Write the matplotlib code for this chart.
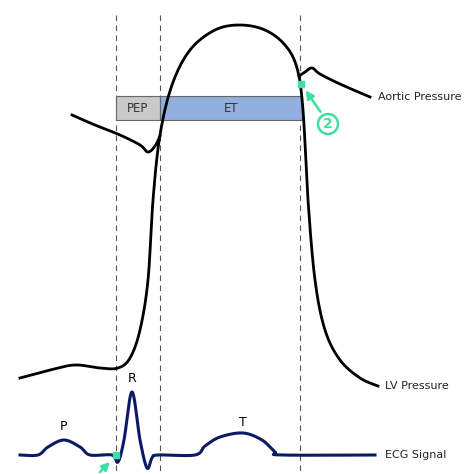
import matplotlib
matplotlib.use("Agg")
import matplotlib.pyplot as plt
import numpy as np

# pixel-space control points (y grows downward)
lv_x = [20, 50, 75, 100, 118, 130, 140, 148, 153, 160, 172, 190, 215, 240, 265, 285, 297, 303, 308, 315, 325, 340, 360, 378]
lv_y = [378, 370, 365, 368, 368, 358, 330, 280, 200, 135, 85, 50, 30, 25, 30, 45, 68, 110, 200, 280, 330, 360, 378, 386]
ao1_x = [72, 95, 120, 140, 148, 155, 160]
ao1_y = [115, 125, 135, 145, 152, 146, 136]
ao2_x = [299, 305, 312, 320, 340, 370]
ao2_y = [76, 72, 68, 74, 84, 97]
ecg_x = [20, 38, 48, 64, 80, 90, 112, 118, 124, 132, 140, 147, 152, 158, 195, 205, 220, 243, 262, 275, 282, 375]
ecg_y = [455, 455, 447, 440, 447, 455, 455, 462, 440, 392, 440, 468, 458, 455, 455, 446, 437, 433, 440, 452, 455, 455]
dash_x = [116, 160, 300]
labels = ["Aortic Pressure", "LV Pressure", "ECG Signal"]

def smooth(x, y, n=20):
    x = np.array(x, float); y = np.array(y, float)
    P = np.vstack([x, y]).T
    P = np.vstack([P[0], P, P[-1]])
    out = []
    for i in range(1, len(P) - 2):
        p0, p1, p2, p3 = P[i-1], P[i], P[i+1], P[i+2]
        for t in np.linspace(0, 1, n, endpoint=False):
            out.append(0.5 * ((2*p1) + (-p0+p2)*t + (2*p0-5*p1+4*p2-p3)*t**2 + (-p0+3*p1-3*p2+p3)*t**3))
    out.append(P[-2])
    out = np.array(out)
    return out[:, 0], out[:, 1]

fig = plt.figure(figsize=(4.74, 4.74), dpi=100)
ax = fig.add_axes([0, 0, 1, 1])
ax.set_xlim(0, 474); ax.set_ylim(474, 0); ax.axis("off")

for x in dash_x:
    ax.plot([x, x], [15, 474], ls=(0, (5, 4)), color="#555555", lw=0.8)

ax.add_patch(plt.Rectangle((116, 96), 44, 24, fc="#c9c9c9", ec="#666666", lw=0.8, zorder=2))
ax.add_patch(plt.Rectangle((160, 96), 142, 24, fc="#92b0de", ec="#666666", lw=0.8, zorder=2))
ax.text(138, 108, "PEP", ha="center", va="center", fontsize=8.5, color="#333333", zorder=3)
ax.text(231, 108, "ET", ha="center", va="center", fontsize=8.5, color="#333333", zorder=3)

for xs, ys in [(lv_x, lv_y), (ao1_x, ao1_y), (ao2_x, ao2_y)]:
    sx, sy = smooth(xs, ys)
    ax.plot(sx, sy, color="black", lw=2, zorder=4)
sx, sy = smooth(ecg_x, ecg_y)
ax.plot(sx, sy, color="#0c1a66", lw=2.2, zorder=4)

ax.text(378, 97, labels[0], va="center", fontsize=8, color="#222222")
ax.text(385, 386, labels[1], va="center", fontsize=8, color="#222222")
ax.text(385, 455, labels[2], va="center", fontsize=8, color="#222222")
ax.text(64, 426, "P", ha="center", va="center", fontsize=9)
ax.text(132, 378, "R", ha="center", va="center", fontsize=9)
ax.text(243, 422, "T", ha="center", va="center", fontsize=9)

g = "#3ee0a0"
ax.plot(301, 84, "s", color=g, ms=4, zorder=5)
ax.plot(116, 455, "s", color=g, ms=4, zorder=5)
ax.annotate("", xy=(304, 88), xytext=(322, 114),
            arrowprops=dict(arrowstyle="-|>", color=g, lw=1.8, mutation_scale=12), zorder=5)
ax.add_patch(plt.Circle((328, 124), 10, fc="white", ec=g, lw=1.8, zorder=5))
ax.text(328, 124, "2", ha="center", va="center", fontsize=10, color=g, fontweight="bold", zorder=6)
ax.annotate("", xy=(112, 460), xytext=(98, 474),
            arrowprops=dict(arrowstyle="-|>", color=g, lw=1.8, mutation_scale=12), zorder=5)

fig.savefig("out.png", dpi=100)
